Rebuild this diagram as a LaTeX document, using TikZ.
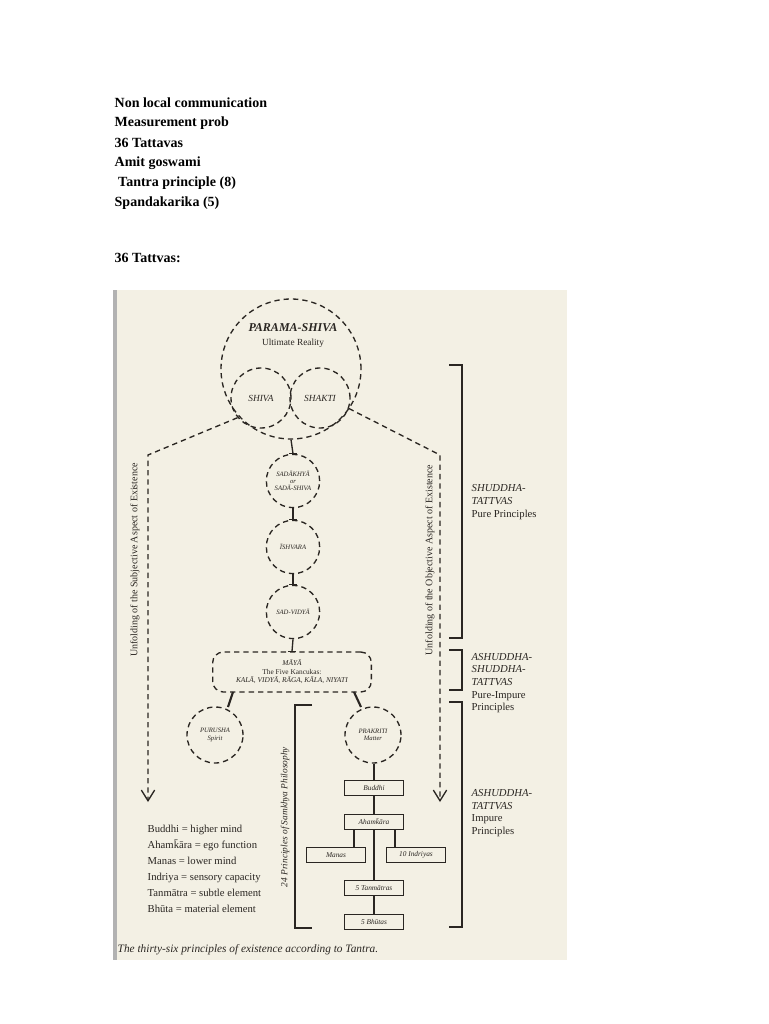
\documentclass[tikz,border=0pt]{standalone}
\usepackage{fontspec}
\setmainfont{Liberation Serif}
\usetikzlibrary{arrows.meta}
\definecolor{paper}{HTML}{F3F0E4}
\definecolor{ink}{HTML}{2A2622}
\tikzset{
 circ/.style={draw=ink,dashed,line width=1pt,circle,dash pattern=on 4pt off 3pt,align=center,font=\itshape\tiny,text=ink},
 bx/.style={draw=ink,line width=1pt,minimum width=44pt,minimum height=11pt,font=\itshape\fontsize{5.5}{6}\selectfont,inner sep=1pt,text=ink},
 lnk/.style={draw=ink,line width=1pt},
 dsh/.style={draw=ink,line width=1pt,dash pattern=on 4pt off 3pt},
 hd/.style={anchor=west,font=\bfseries\fontsize{10.5}{12}\selectfont,text=black},
 lab/.style={anchor=west,font=\fontsize{8}{9.5}\selectfont,align=left,text=ink},
 brk/.style={draw=ink,line width=1pt}
}
\begin{document}
\begin{tikzpicture}[x=0.75pt,y=-0.75pt]
\useasboundingbox (0,0) rectangle (768,1024);
\fill[white] (0,0) rectangle (768,1024);
\foreach \t [count=\i] in {Non local communication,Measurement prob,36 Tattavas,Amit goswami,{\ Tantra principle (8)},Spandakarika (5)}
  \node[hd] (h\i) at (110,83+20*\i) {\t};
\node[hd] (h7) at (110,258) {36 Tattvas:};
\fill[paper] (113,290) rectangle (567,960);
\fill[gray!60] (113,290) rectangle (117,960);
% circles
\node[circ,minimum size=105pt] (ps) at (291,369) {};
\node[font=\itshape\bfseries\small,text=ink] (pst) at (293,328) {PARAMA-SHIVA};
\node[font=\scriptsize,text=ink] (ur) at (293,343) {Ultimate Reality};
\node[circ,minimum size=45pt,font=\itshape\scriptsize] (shiva) at (261,398) {SHIVA};
\node[circ,minimum size=45pt,font=\itshape\scriptsize] (shakti) at (320,398) {SHAKTI};
\node[circ,minimum size=40pt,inner sep=0pt,font=\itshape\fontsize{5}{5.5}\selectfont] (sad) at (293,481) {SAD\=AKHY\=A\\or\\SAD\=A-SHIVA};
\node[circ,minimum size=40pt,font=\itshape\fontsize{5}{5.5}\selectfont] (isv) at (293,547) {\=ISHVARA};
\node[circ,minimum size=40pt,font=\itshape\fontsize{5}{5.5}\selectfont] (sv) at (293,612) {SAD-VIDY\=A};
\node[dsh,rounded corners=8pt,minimum width=119pt,minimum height=30pt,align=center,font=\fontsize{5.5}{6.5}\selectfont,text=ink] (maya) at (292,672) {\textit{M\=AY\=A}\\The Five Kancukas:\\\textit{KAL\=A, VIDY\=A, R\=AGA, K\=ALA, NIYATI}};
\node[circ,minimum size=42pt,font=\itshape\fontsize{5}{5.5}\selectfont] (pur) at (215,735) {PURUSHA\\Spirit};
\node[circ,minimum size=42pt,font=\itshape\fontsize{5}{5.5}\selectfont] (pra) at (373,735) {PRAKRITI\\Matter};
% boxes
\node[bx] (bud) at (374,788) {Buddhi};
\node[bx] (aha) at (374,822) {Aham\=k\=ara};
\node[bx] (man) at (336,855) {Manas};
\node[bx] (ind) at (416,855) {10 Indriyas};
\node[bx] (tan) at (374,888) {5 Tanm\=atras};
\node[bx] (bhu) at (374,922) {5 Bh\=utas};
% short T-connectors
\foreach \a/\b in {ps/sad,sad/isv,isv/sv,sv/maya}{
 \draw[lnk] (\a.south) -- (\b.north);
 \draw[lnk] ([xshift=-3pt]\b.north) -- ([xshift=3pt]\b.north);
}
\draw[line width=1.6pt,ink] (233,692) -- (228,707);
\draw[line width=1.6pt,ink] (354,692) -- (361,707);
\draw[lnk] (pra.south -| bud.north) -- (bud.north);
\draw[lnk] (bud) -- (aha);
\draw[lnk] (aha) -- (tan);
\draw[lnk] (tan) -- (bhu);
\draw[lnk] (aha.south -| 354,0) -- (man.north -| 354,0);
\draw[lnk] (aha.south -| 395,0) -- (ind.north -| 395,0);
% unfolding arrows
\coordinate (s1) at (148,455); \coordinate (s2) at (148,802);
\coordinate (o1) at (440,455); \coordinate (o2) at (440,802);
\draw[dsh,-{Straight Barb[length=8pt,width=10pt]}] (shiva.-140) -- (s1) -- (s2);
\draw[dsh,-{Straight Barb[length=8pt,width=10pt]}] (shakti.-20) -- (o1) -- (o2);
\node[rotate=90,font=\fontsize{7.5}{8}\selectfont,text=ink] (ts) at (135,560) {Unfolding of the Subjective Aspect of Existence};
\node[rotate=90,font=\fontsize{7.5}{8}\selectfont,text=ink] (to) at (430,560) {Unfolding of the Objective Aspect of Existence};
% samkhya bracket
\draw[brk] (312,705) -- (295,705) -- (295,928) -- (312,928);
\node[rotate=90,font=\itshape\fontsize{7}{8}\selectfont,text=ink] (sk) at (285,817) {24 Principles of Samkhya Philosophy};
% right brackets
\draw[brk] (449,365) -- (462,365) -- (462,638) -- (449,638);
\draw[brk] (449,650) -- (462,650) -- (462,690) -- (449,690);
\draw[brk] (449,702) -- (462,702) -- (462,927) -- (449,927);
\node[lab] (r1) at (467,502) {\textit{SHUDDHA-}\\\textit{TATTVAS}\\Pure Principles};
\node[lab] (r2) at (467,683) {\textit{ASHUDDHA-}\\\textit{SHUDDHA-}\\\textit{TATTVAS}\\Pure-Impure\\Principles};
\node[lab] (r3) at (467,813) {\textit{ASHUDDHA-}\\\textit{TATTVAS}\\Impure\\Principles};
% legend
\node[lab,font=\fontsize{8}{12}\selectfont] (leg) at (143,869) {Buddhi = higher mind\\Aham\=k\=ara = ego function\\Manas = lower mind\\Indriya = sensory capacity\\Tanm\=atra = subtle element\\Bh\=uta = material element};
\node[anchor=west,font=\itshape\fontsize{8.5}{10}\selectfont,text=ink] (cap) at (113,950) {The thirty-six principles of existence according to Tantra.};
\end{tikzpicture}
\end{document}
